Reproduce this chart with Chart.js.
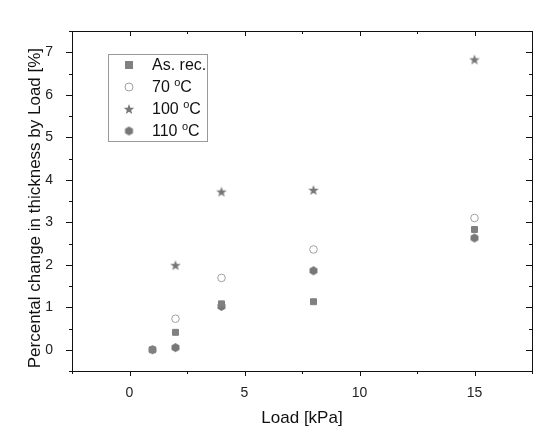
<!DOCTYPE html>
<html>
<head>
<meta charset="utf-8">
<script src="https://cdn.jsdelivr.net/npm/chart.js@4.4.1/dist/chart.umd.min.js"></script>
<style>
  html, body { margin: 0; background: #fff; }
  #wrap { width: 550px; height: 439px; position: relative; }
</style>
</head>
<body>
<div id="wrap"><canvas id="chart-load"></canvas></div>
<script>
// data
const loads = [1, 2, 4, 8, 15];
const asRec = [0, 0.41, 1.08, 1.13, 2.83];
const temp70 = [null, 0.73, 1.69, 2.36, 3.10];
const temp100 = [null, 1.99, 3.72, 3.76, 6.83];
const temp110 = [0, 0.05, 1.02, 1.86, 2.63];

const xTicks = [0, 5, 10, 15];
const yTicks = [0, 1, 2, 3, 4, 5, 6, 7];
const xMinor = [-2.5, 2.5, 7.5, 12.5, 17.5];
const yMinor = [-0.5, 0.5, 1.5, 2.5, 3.5, 4.5, 5.5, 6.5, 7.5];

const FONT = "'Liberation Sans', Arial, sans-serif";

// custom markers (star + hexagon) drawn once on small canvases
function makeMarker(size, draw) {
  const c = document.createElement("canvas");
  c.width = size;
  c.height = size;
  const g = c.getContext("2d");
  draw(g, size / 2);
  return c;
}

const starMarker = makeMarker(12, (g, m) => {
  g.fillStyle = "#777";
  g.beginPath();
  for (let i = 0; i < 10; i++) {
    const r = i % 2 === 0 ? 5.5 : 2.3;
    const a = -Math.PI / 2 + (i * Math.PI) / 5;
    g.lineTo(m + r * Math.cos(a), m + 0.5 + r * Math.sin(a));
  }
  g.closePath();
  g.fill();
});

const hexMarker = makeMarker(11, (g, m) => {
  g.fillStyle = "#777";
  g.beginPath();
  for (let i = 0; i < 6; i++) {
    const a = -Math.PI / 2 + (i * Math.PI) / 3;
    g.lineTo(m + 4.6 * Math.cos(a), m + 4.6 * Math.sin(a));
  }
  g.closePath();
  g.fill();
});

const toPoints = (ys) =>
  loads.map((x, i) => ({ x: x, y: ys[i] })).filter((p) => p.y !== null);

const series = [
  { label: "As. rec.", data: asRec, style: "rect", radius: 4.2, bg: "#808080", border: "#808080" },
  { label: "70", data: temp70, style: "circle", radius: 3.8, bg: "#fff", border: "#a0a0a0" },
  { label: "100", data: temp100, style: starMarker, radius: 6, bg: "#777", border: "#777" },
  { label: "110", data: temp110, style: hexMarker, radius: 5, bg: "#777", border: "#777" },
];

// frame box + minor ticks + mirrored inner ticks
const framePlugin = {
  id: "frame",
  afterDraw(chart) {
    const { ctx, chartArea: a, scales } = chart;
    const x = scales.x, y = scales.y;
    ctx.save();
    ctx.strokeStyle = "#111";
    ctx.lineWidth = 1;
    ctx.strokeRect(a.left + 0.5, a.top + 0.5, a.right - a.left, a.bottom - a.top);
    ctx.beginPath();
    const tickX = (v, len) => {
      const px = Math.round(x.getPixelForValue(v)) + 0.5;
      ctx.moveTo(px, a.bottom); ctx.lineTo(px, a.bottom + len);
      ctx.moveTo(px, a.top); ctx.lineTo(px, a.top + len);
    };
    const tickY = (v, len) => {
      const py = Math.round(y.getPixelForValue(v)) + 0.5;
      ctx.moveTo(a.left, py); ctx.lineTo(a.left - len, py);
      ctx.moveTo(a.right, py); ctx.lineTo(a.right - len, py);
    };
    xTicks.forEach((v) => tickX(v, 5));
    xMinor.forEach((v) => tickX(v, 3));
    yTicks.forEach((v) => tickY(v, 6));
    yMinor.forEach((v) => tickY(v, 3));
    ctx.stroke();
    ctx.restore();
  },
};

// legend box inside the plot
const boxLegendPlugin = {
  id: "boxLegend",
  afterDraw(chart) {
    const { ctx } = chart;
    const bx = 108, by = 54, bw = 99, bh = 87;
    ctx.save();
    ctx.strokeStyle = "#999";
    ctx.lineWidth = 1;
    ctx.strokeRect(bx + 0.5, by + 0.5, bw, bh);
    const rowY = [65, 87, 109, 131];
    const mx = 129, tx = 152;
    ctx.textBaseline = "middle";
    ctx.fillStyle = "#111";
    series.forEach((s, i) => {
      const cy = rowY[i];
      if (s.style === "rect") {
        ctx.fillStyle = s.bg;
        ctx.fillRect(mx - 4, cy - 4, 8, 8);
      } else if (s.style === "circle") {
        ctx.strokeStyle = s.border;
        ctx.beginPath();
        ctx.arc(mx, cy, 4, 0, Math.PI * 2);
        ctx.stroke();
      } else {
        ctx.drawImage(s.style, mx - s.style.width / 2, cy - s.style.height / 2);
      }
      ctx.fillStyle = "#111";
      ctx.font = "16px " + FONT;
      if (i === 0) {
        ctx.fillText(s.label, tx, cy + 1);
      } else {
        const w = ctx.measureText(s.label + " ").width;
        ctx.fillText(s.label + " ", tx, cy + 1);
        ctx.font = "11px " + FONT;
        ctx.fillText("o", tx + w, cy - 4);
        const wo = ctx.measureText("o").width;
        ctx.font = "16px " + FONT;
        ctx.fillText("C", tx + w + wo, cy + 1);
      }
    });
    ctx.restore();
  },
};

new Chart(document.getElementById("chart-load"), {
  type: "scatter",
  data: {
    datasets: series.map((s) => ({
      label: s.label,
      data: toPoints(s.data),
      pointStyle: s.style,
      pointRadius: s.radius,
      pointHoverRadius: s.radius,
      backgroundColor: s.bg,
      borderColor: s.border,
      borderWidth: 1,
    })),
  },
  plugins: [framePlugin, boxLegendPlugin],
  options: {
    responsive: true,
    maintainAspectRatio: false,
    animation: false,
    layout: { padding: { top: 31, right: 18, left: 0, bottom: 0 } },
    scales: {
      x: {
        type: "linear",
        min: -2.5,
        max: 17.5,
        afterBuildTicks: (sc) => { sc.ticks = xTicks.map((v) => ({ value: v })); },
        afterFit: (sc) => { sc.height = 68; },
        grid: { display: false },
        border: { display: false },
        ticks: { color: "#222", font: { family: FONT, size: 14 }, padding: 6, maxRotation: 0 },
        title: {
          display: true,
          text: "Load [kPa]",
          color: "#111",
          font: { family: FONT, size: 17 },
          padding: { top: 0, bottom: 10 },
        },
      },
      y: {
        type: "linear",
        min: -0.5,
        max: 7.5,
        afterBuildTicks: (sc) => { sc.ticks = yTicks.map((v) => ({ value: v })); },
        afterFit: (sc) => { sc.width = 72; },
        grid: { display: false },
        border: { display: false },
        ticks: { color: "#222", font: { family: FONT, size: 14 }, padding: 11 },
        title: {
          display: true,
          text: "Percental change in thickness by Load [%]   ",
          color: "#111",
          font: { family: FONT, size: 17 },
          padding: { top: 25, bottom: 0 },
        },
      },
    },
    plugins: {
      legend: { display: false },
      tooltip: { enabled: false },
    },
  },
});
</script>
</body>
</html>
